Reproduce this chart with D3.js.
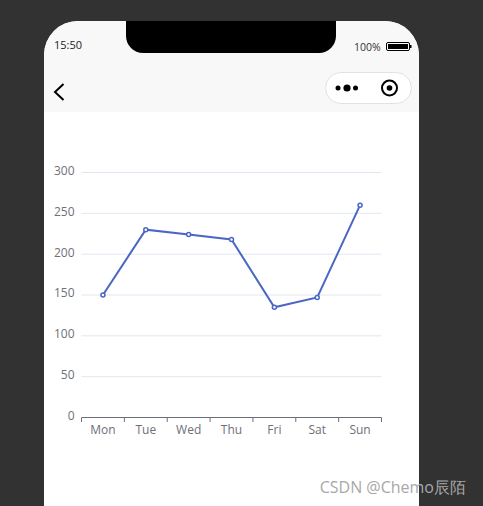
<!DOCTYPE html>
<html><head><meta charset="utf-8">
<script src="https://cdn.jsdelivr.net/npm/d3@7/dist/d3.min.js"></script>
<style>
html,body{margin:0;padding:0;background:#323232;overflow:hidden}
svg{display:block}
text{font-family:"Open Sans","Noto Sans",sans-serif}
</style></head><body>
<svg id="c" width="483" height="506"></svg>
<script>
const categories=["Mon","Tue","Wed","Thu","Fri","Sat","Sun"];
const values=[150,230,224,218,135,147,260];
const yTicks=[0,50,100,150,200,250,300];

const svg=d3.select("#c");
// phone frame
svg.append("path").attr("fill","#fff")
  .attr("d","M44,506V55A34,34 0 0 1 78,21H385A34,34 0 0 1 419,55V506Z");
svg.append("path").attr("fill","#f8f8f8")
  .attr("d","M44,112V55A34,34 0 0 1 78,21H385A34,34 0 0 1 419,55V112Z");
svg.append("path").attr("fill","#000")
  .attr("d","M126,21H336V36A17,17 0 0 1 319,53H143A17,17 0 0 1 126,36Z");
svg.append("text").attr("x",54).attr("y",48.500).attr("font-size",11).attr("fill","#222").text("15:50");
svg.append("text").attr("x",354).attr("y",50.500).attr("font-size",10.5).attr("fill","#333").text("100%");
svg.append("rect").attr("x",386.5).attr("y",42.5).attr("width",23).attr("height",8).attr("rx",1.5).attr("fill","#fff").attr("stroke","#000").attr("stroke-width",1);
svg.append("rect").attr("x",388).attr("y",44).attr("width",20).attr("height",5).attr("fill","#000");
svg.append("rect").attr("x",410).attr("y",45).attr("width",1.5).attr("height",3).attr("fill","#000");
svg.append("path").attr("d","M63.5,84L55,92L63.5,100").attr("fill","none").attr("stroke","#000").attr("stroke-width",2);
svg.append("rect").attr("x",325.5).attr("y",72.5).attr("width",86).attr("height",31).attr("rx",15.5).attr("fill","#fff").attr("stroke","#e2e2e2");
[[338,2.5],[347,3.6],[355.500,2.5]].forEach(d=>svg.append("circle").attr("cx",d[0]).attr("cy",88).attr("r",d[1]).attr("fill","#000"));
svg.append("circle").attr("cx",389.500).attr("cy",88).attr("r",7.5).attr("fill","none").attr("stroke","#000").attr("stroke-width",2);
svg.append("circle").attr("cx",389.500).attr("cy",88).attr("r",2.8).attr("fill","#000");

// chart
const x=d3.scaleBand().domain(categories).range([81.5,381.5]);
const y=d3.scaleLinear().domain([0,300]).range([417.5,172.5]);
const gy=svg.append("g").attr("transform","translate(81.5,0)")
  .call(d3.axisLeft(y).offset(0).tickValues(yTicks).tickSize(-300).tickPadding(7));
gy.select(".domain").remove();
gy.selectAll("line").attr("stroke","#e0e6f1").filter(d=>d===0).remove();
gy.selectAll("text").attr("fill","#6e7079").attr("font-size",12).attr("font-family",'"Open Sans",sans-serif').attr("y",-1.500);

const gx=svg.append("g").attr("transform","translate(0,417.5)")
  .call(d3.axisBottom(x).offset(0).tickSize(0).tickPadding(5));
gx.select(".domain").attr("stroke","#6e7079");
gx.selectAll("text").attr("fill","#6e7079").attr("font-size",12).attr("font-family",'"Open Sans",sans-serif').attr("dy","0.95em");
svg.append("g").selectAll("line").data([...categories.map(c=>x(c)),381.5]).join("line")
  .attr("x1",d=>d).attr("x2",d=>d).attr("y1",417.5).attr("y2",422).attr("stroke","#6e7079");

const cx=c=>x(c)+x.bandwidth()/2;
const line=d3.line().x((d,i)=>cx(categories[i])).y(d=>y(d));
svg.append("path").datum(values).attr("d",line).attr("fill","none").attr("stroke","#4a67c4").attr("stroke-width",2);
svg.append("g").selectAll("circle").data(values).join("circle")
  .attr("cx",(d,i)=>cx(categories[i])).attr("cy",d=>y(d)).attr("r",2)
  .attr("fill","#fff").attr("stroke","#4a67c4").attr("stroke-width",1.500);

// watermark
svg.append("text").attr("x",466).attr("y",493).attr("text-anchor","end").attr("font-size",16)
  .attr("font-family",'"Noto Sans CJK SC","Noto Sans",sans-serif').attr("fill","#a8a8a8").text("CSDN @Chemo辰陌");
</script></body></html>
